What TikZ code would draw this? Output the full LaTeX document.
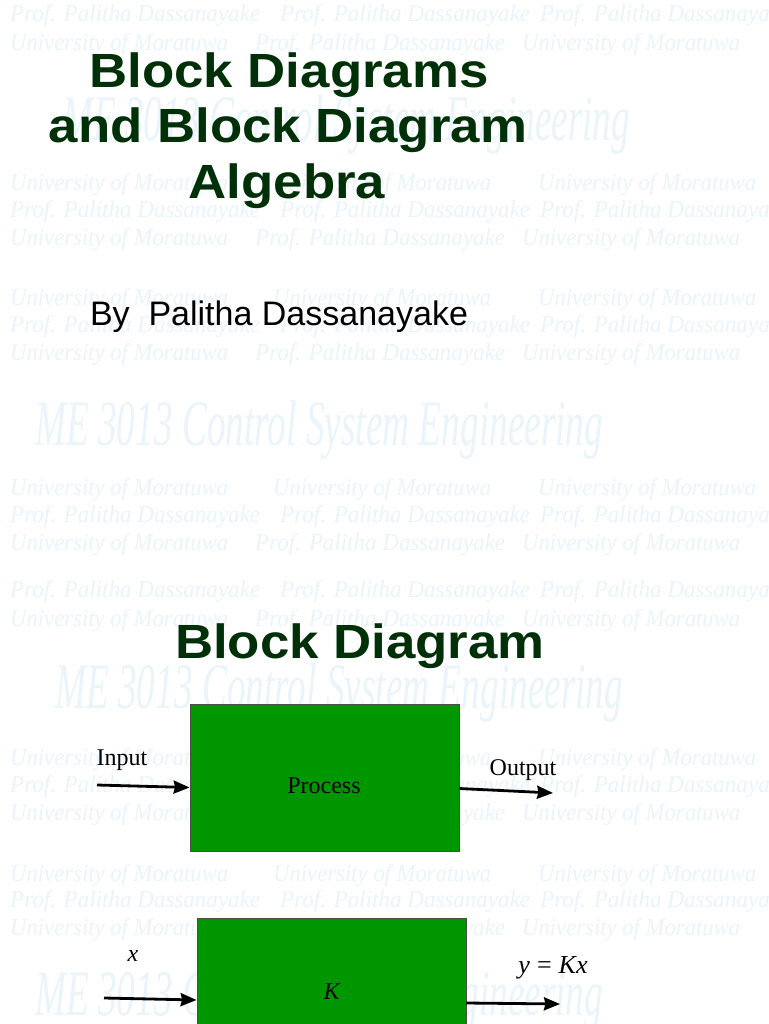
\documentclass[tikz,border=0pt]{standalone}
\usepackage{fontspec}
\setmainfont{Liberation Serif}
\setsansfont{Liberation Sans}
\usepackage{graphicx}
\usetikzlibrary{arrows.meta,calc}
\definecolor{wmblue}{RGB}{234,244,251}
\definecolor{titlegreen}{RGB}{0,48,8}
\definecolor{boxgreen}{RGB}{0,150,0}
\newcommand{\wmuni}{\resizebox{218pt}{17pt}{\itshape University of Moratuwa}}
\newcommand{\wmprof}{\resizebox{250pt}{17pt}{\itshape Prof. Palitha Dassanayake}}
\newcommand{\wmcourse}{\resizebox{568pt}{45pt}{\itshape ME 3013 Control System Engineering}}

\begin{document}
\begin{tikzpicture}[x=1pt,y=-1pt,
  wmark/.style={text=wmblue,anchor=west,inner sep=0pt},
  headline/.style={text=titlegreen,anchor=base,inner sep=0pt,xscale=1.1,
    font=\fontsize{48}{48}\selectfont\sffamily\bfseries},
  byline/.style={anchor=base,inner sep=0pt,font=\fontsize{34}{34}\selectfont\sffamily},
  block/.style={draw=black!70,fill=boxgreen,line width=0.8pt,minimum width=269pt,
    minimum height=147pt,inner sep=0pt,font=\fontsize{24}{24}\selectfont\itshape},
  sig/.style={inner sep=0pt,font=\fontsize{24}{24}\selectfont},
  flow/.style={line width=2.8pt,-{Stealth[length=16pt,width=13pt,inset=1.5pt]}}]
  \fill[white] (0,0) rectangle (768,1024);
  \useasboundingbox (0,0) rectangle (768,1024);
  \clip (0,0) rectangle (768,1024);
  \foreach \y in {185,300,490,760,876}
    \foreach \x in {10,273,538}
      \node[wmark] (wu\x-\y) at (\x,\y) {\wmuni};
  \foreach \y in {16,212,327,517,592,787,902}
    \foreach \x in {10,280,540}
      \node[wmark] (wp\x-\y) at (\x,\y) {\wmprof};
  \foreach \y in {45,240,355,545,621,815,930} {
    \node[wmark] (wl\y) at (10,\y) {\wmuni};
    \node[wmark] (wm\y) at (255,\y) {\wmprof};
    \node[wmark] (wr\y) at (522,\y) {\wmuni};
  }
  \foreach \x/\y in {62/125,35/430,55/693,35/1000}
    \node[wmark] (wc\y) at (\x,\y) {\wmcourse};

  \node[headline] (t1) at (289,88) {Block Diagrams};
  \node[headline] (t2) at (288,143) {and Block Diagram};
  \node[headline] (t3) at (287,199) {Algebra};
  \node[byline] (by) at (279,325) {By\ \ Palitha Dassanayake};
  \node[headline] (t4) at (360,658) {Block Diagram};

  \node[block] (proc) at (324.5,777.5) {};
  \node[sig] (proclbl) at (324,786) {Process};
  \node[sig] (inlbl) at (122,760) {Input};
  \node[sig] (outlbl) at (523,770) {Output};
  \coordinate (in1) at (97,785);
  \coordinate (out1) at (553,793);
  \draw[flow] (in1) -- ($(proc.west)+(0,10)$);
  \draw[flow] ($(proc.east)+(0,11)$) -- (out1);

  \node[block] (gain) at (331.5,991.5) {K};
  \node[sig] (xlbl) at (133,956) {\itshape x};
  \node[sig,font=\fontsize{26}{26}\selectfont] (ylbl) at (553,968) {\textit{y}\hspace{7pt}=\hspace{7pt}\textit{Kx}};
  \coordinate (in2) at (104,998);
  \coordinate (out2) at (560,1004);
  \draw[flow] (in2) -- ($(gain.west)+(0,8.5)$);
  \draw[flow] ($(gain.east)+(0,11.5)$) -- (out2);
\end{tikzpicture}
\end{document}
